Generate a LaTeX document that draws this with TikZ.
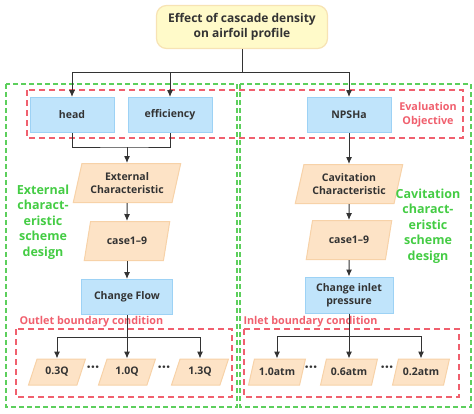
\documentclass[tikz,border=0pt]{standalone}
\usepackage{fontspec}
\setmainfont{Open Sans}
\usetikzlibrary{shapes.geometric, arrows, arrows.meta}
\usepackage{xcolor}
\definecolor{boxblue}{HTML}{C0E4FB}
\definecolor{lineblue}{HTML}{9DD2F5}
\definecolor{boxorange}{HTML}{FDE3C6}
\definecolor{lineorange}{HTML}{F7D2A8}
\definecolor{boxyellow}{HTML}{FFFAC9}
\definecolor{lineyellow}{HTML}{F7E3B4}
\definecolor{dashred}{HTML}{F0606E}
\definecolor{dashgreen}{HTML}{5CCF5C}
\definecolor{textgreen}{HTML}{44CC44}
\definecolor{textdark}{HTML}{333333}

\begin{document}
\begin{tikzpicture}[x=1pt, y=-1pt, font=\fontsize{10.5}{13}\selectfont\bfseries, text=textdark]
    % Define styles
    \tikzstyle{topic} = [rectangle, rounded corners=10pt, minimum width=171pt, minimum height=43pt, align=center, draw=lineyellow, fill=boxyellow, line width=1.2pt, font=\fontsize{12}{15}\selectfont\bfseries]
    \tikzstyle{process} = [rectangle, minimum width=84pt, minimum height=35pt, align=center, draw=lineblue, fill=boxblue, line width=1pt]
    \tikzstyle{io} = [trapezium, trapezium left angle=75, trapezium right angle=105, trapezium stretches=true, minimum width=108pt, minimum height=39pt, align=center, draw=lineorange, fill=boxorange, line width=1pt, inner xsep=2pt]
    \tikzstyle{small io} = [io, minimum width=57pt, minimum height=26pt, trapezium left angle=70, trapezium right angle=110]
    \tikzstyle{redbox} = [draw=dashred, line width=1.2pt, dash pattern=on 6pt off 4pt]
    \tikzstyle{greenbox} = [draw=dashgreen, line width=1.2pt, dash pattern=on 5pt off 3pt]
    \tikzstyle{redlabel} = [text=dashred, font=\fontsize{10.8}{14}\selectfont\bfseries]
    \tikzstyle{greenlabel} = [text=textgreen, align=center, font=\fontsize{12.5}{15.5}\selectfont\bfseries]
    \tikzstyle{line} = [draw=textdark, line width=1pt]
    \tikzstyle{arrow} = [line, -{Latex[length=7pt, width=6pt]}]

    \useasboundingbox (0,0) rectangle (474,413);

    % Frames
    \draw [greenbox] (6,84) rectangle (237,407);
    \draw [greenbox] (240,84) rectangle (471,407);
    \draw [redbox] (27,90) rectangle (463,138);
    \draw [redbox] (16,329) rectangle (232,397);
    \draw [redbox] (244,329) rectangle (459,397);

    % Nodes
    \node (topic) [topic] at (242,27) {Effect of cascade density\\on airfoil profile};
    \node (head) [process] at (72,115) {head};
    \node (efficiency) [process] at (170,115) {efficiency};
    \node (npsha) [process] at (349,115) {NPSHa};
    \node (objective) [redlabel, align=center] at (428,115) {Evaluation\\Objective};

    \node (external) [io] at (127,183) {External\\Characteristic};
    \node (caseext) [io, minimum width=86pt] at (127,241) {case1--9};
    \node (flow) [process, minimum width=91pt] at (127,297) {Change Flow};
    \node (extdesign) [greenlabel] at (43,222) {External\\charact-\\eristic\\scheme\\design};

    \node (cavitation) [io] at (349,184) {Cavitation\\Characteristic};
    \node (casecav) [io, minimum width=86pt] at (349,240) {case1--9};
    \node (pressure) [process, minimum width=88pt, minimum height=36pt] at (349,295) {Change inlet\\pressure};
    \node (cavdesign) [greenlabel] at (428,226) {Cavitation\\charact-\\eristic\\scheme\\design};

    \node (outlet) [redlabel, anchor=west] at (16,322) {Outlet boundary condition};
    \node (inlet) [redlabel, anchor=west] at (240,322) {Inlet boundary condition};

    \node (q03) [small io] at (57,372) {0.3Q};
    \node (q10) [small io] at (127,372) {1.0Q};
    \node (q13) [small io] at (200,372) {1.3Q};
    \node (a10) [small io] at (277,372) {1.0atm};
    \node (a06) [small io] at (349,372) {0.6atm};
    \node (a02) [small io] at (421,372) {0.2atm};
    \node (dots1) at (93,369) {\fontsize{15}{15}\selectfont ···};
    \node (dots2) at (164,369) {\fontsize{15}{15}\selectfont ···};
    \node (dots3) at (311,369) {\fontsize{15}{15}\selectfont ···};
    \node (dots4) at (387,369) {\fontsize{15}{15}\selectfont ···};

    % Junctions
    \coordinate (split) at (242,72);
    \coordinate (merge) at (127,147);
    \coordinate (flowsplit) at (127,337);
    \coordinate (pressplit) at (349,336);

    % Arrows
    \draw [line] (topic) -- (split);
    \draw [arrow] (split) -| (head);
    \draw [arrow] (split) -| (efficiency);
    \draw [arrow] (split) -| (npsha);
    \draw [line] (head) |- (merge) -| (efficiency);
    \draw [arrow] (merge) -- (external);
    \draw [arrow] (external) -- (caseext);
    \draw [arrow] (caseext) -- (flow);
    \draw [line] (flow) -- (flowsplit);
    \draw [arrow] (flowsplit) -| (q03);
    \draw [arrow] (flowsplit) -- (q10);
    \draw [arrow] (flowsplit) -| (q13);
    \draw [arrow] (npsha) -- (cavitation);
    \draw [arrow] (cavitation) -- (casecav);
    \draw [arrow] (casecav) -- (pressure);
    \draw [line] (pressure) -- (pressplit);
    \draw [arrow] (pressplit) -| (a10);
    \draw [arrow] (pressplit) -- (a06);
    \draw [arrow] (pressplit) -| (a02);
\end{tikzpicture}
\end{document}
